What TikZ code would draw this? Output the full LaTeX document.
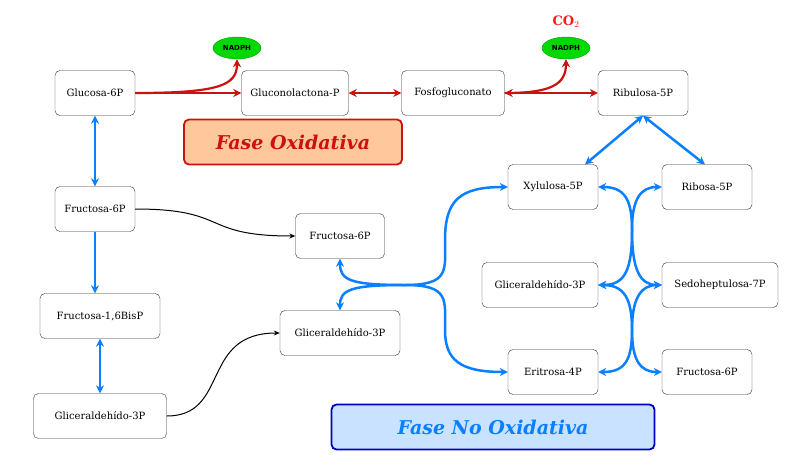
\documentclass[tikz,border=0pt]{standalone}
\usepackage{fontspec}
\setmainfont{DejaVu Serif}
\newfontfamily\sansb{DejaVu Sans}
\usetikzlibrary{arrows.meta,shapes.geometric}
\definecolor{bl}{HTML}{0A7FFF}
\definecolor{rd}{HTML}{CC1111}
\definecolor{lb}{HTML}{C8E2FF}
\definecolor{pe}{HTML}{FFC89A}
\begin{document}
\begin{tikzpicture}[x=1pt,y=-1pt,
 box/.style={draw=black!80,rounded corners=5pt,minimum height=45pt,font=\fontsize{10}{11}\selectfont,inner sep=2pt},
 ra/.style={draw=rd,line width=2.2pt,-{Stealth[length=8pt,width=8pt]}},
 rb/.style={ra,{Stealth[length=8pt,width=8pt]}-{Stealth[length=8pt,width=8pt]}},
 ba/.style={draw=bl,line width=2.5pt,{Stealth[length=8pt,width=8pt]}-{Stealth[length=8pt,width=8pt]}},
 bo/.style={draw=bl,line width=2.5pt,-{Stealth[length=8pt,width=8pt]}},
 ka/.style={draw=black,line width=1pt,-{Stealth[length=6pt,width=5pt]}},
 nad/.style={ellipse,fill=green!85!black,draw=green!60!black,minimum width=48pt,minimum height=22pt,inner sep=0pt,font=\sansb\bfseries\fontsize{7}{8}\selectfont}]
\useasboundingbox (0,0) rectangle (800,469);
\node[box,minimum width=80pt] (g6) at (95,93) {Glucosa-6P};
\node[box,minimum width=107pt] (gl) at (295,93) {Gluconolactona-P};
\node[box,minimum width=103pt] (fg) at (453,93) {Fosfogluconato};
\node[box,minimum width=90pt] (ru) at (643,93) {Ribulosa-5P};
\node[nad] (n1) at (237,48) {NADPH};
\node[nad] (n2) at (566,48) {NADPH};
\node[text=red!90!white,font=\bfseries\fontsize{13}{14}\selectfont] (co) at (566,22) {CO$_2$};
\node[draw=rd,line width=1.8pt,fill=pe,rounded corners=5pt,minimum width=218pt,minimum height=45pt,text=rd,font=\bfseries\itshape\fontsize{19}{20}\selectfont] (fo) at (293,142) {Fase Oxidativa};
\node[box,minimum width=80pt] (f6) at (95,209) {Fructosa-6P};
\node[box,minimum width=120pt] (fb) at (100,316) {Fructosa-1,6BisP};
\node[box,minimum width=133pt] (ga) at (100,416) {Gliceraldehído-3P};
\node[box,minimum width=89pt] (f6m) at (340,236) {Fructosa-6P};
\node[box,minimum width=120pt] (gm) at (340,333) {Gliceraldehído-3P};
\node[box,minimum width=90pt] (xy) at (553,187) {Xylulosa-5P};
\node[box,minimum width=90pt] (ri) at (707,187) {Ribosa-5P};
\node[box,minimum width=116pt] (gr) at (540,285) {Gliceraldehído-3P};
\node[box,minimum width=116pt] (se) at (720,285) {Sedoheptulosa-7P};
\node[box,minimum width=90pt] (er) at (553,372) {Eritrosa-4P};
\node[box,minimum width=90pt] (fr) at (707,372) {Fructosa-6P};
\node[draw=blue!75!black,line width=1.8pt,fill=lb,rounded corners=5pt,minimum width=323pt,minimum height=45pt,text=bl,font=\bfseries\itshape\fontsize{19}{20}\selectfont] (fn) at (493,427) {Fase No Oxidativa};
% red
\draw[ra] (g6.east) -- (gl.west);
\draw[ra] (g6.east) .. controls (220,93) and (237,85) .. (n1.south);
\draw[rb] (gl.east) -- (fg.west);
\draw[rb] (fg.east) -- (ru.west);
\draw[ra] (fg.east) .. controls (550,93) and (566,85) .. (n2.south);
% blue left column
\draw[ba] (g6.south) -- (f6.north);
\draw[bo] (f6.south) -- (f6.south |- fb.north);
\draw[ba] (fb.south) -- (fb.south |- ga.north);
% black
\draw[ka] (f6.east) .. controls (230,209) and (200,236) .. (f6m.west);
\draw[ka] (ga.east) .. controls (230,416) and (200,333) .. (gm.west);
% ribulosa
\coordinate (xt) at (585,164.5);
\coordinate (rt) at (705,164.5);
\draw[ba] (ru.south) -- (xt);
\draw[ba] (ru.south) -- (rt);
% hub
\coordinate (h) at (405,285);
\draw[bo] (h) .. controls (350,285) and (340,280) .. (f6m.south);
\draw[bo] (h) .. controls (350,285) and (340,290) .. (gm.north);
\draw[bo] (h) .. controls (450,285) and (445,270) .. (445,240) .. controls (445,200) and (460,187) .. (xy.west);
\draw[bo] (h) .. controls (450,285) and (445,300) .. (445,330) .. controls (445,360) and (460,372) .. (er.west);
% right cross
\draw[ba] (xy.east) .. controls (625,187) and (632,200) .. (632,230) .. controls (632,270) and (640,285) .. (se.west);
\draw[ba] (ri.west) .. controls (640,187) and (632,200) .. (632,230) .. controls (632,270) and (625,285) .. (gr.east);
\draw[ba] (gr.east) .. controls (625,285) and (632,300) .. (632,330) .. controls (632,360) and (640,372) .. (fr.west);
\draw[ba] (er.east) .. controls (625,372) and (632,360) .. (632,330) .. controls (632,300) and (640,285) .. (se.west);
\end{tikzpicture}
\end{document}
